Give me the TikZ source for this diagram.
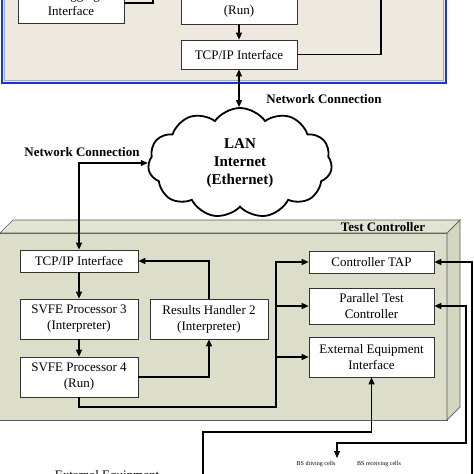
\documentclass[tikz,border=0pt]{standalone}
\usepackage{fontspec}
\setmainfont{Liberation Serif}
\usetikzlibrary{arrows.meta,shapes.symbols,calc}
\definecolor{beige}{RGB}{237,233,223}
\definecolor{panelblue}{RGB}{25,55,200}
\definecolor{panellight}{RGB}{150,170,235}
\definecolor{tcfront}{RGB}{220,222,202}
\definecolor{tctop}{RGB}{226,228,210}
\definecolor{tcside}{RGB}{212,214,192}
\definecolor{edgegray}{RGB}{90,90,90}
\begin{document}
\begin{tikzpicture}[x=1pt,y=-1pt,
  box/.style={draw=black!80, line width=0.7pt, fill=white, align=center, inner sep=0pt, font=\fontsize{13}{16}\selectfont},
  conn/.style={line width=1.1pt, draw=black},
  tip/.style={-{Triangle[length=7pt,width=6pt]}},
  bothtip/.style={{Triangle[length=7pt,width=6pt]}-{Triangle[length=7pt,width=6pt]}},
  lbl/.style={font=\bfseries\fontsize{13}{16}\selectfont, inner sep=0pt},
  tinylbl/.style={font=\fontsize{6}{7}\selectfont, inner sep=0pt}
]
\clip (0,0) rectangle (474,474);
\fill[white] (0,0) rectangle (474,474);
% top panel
\fill[beige] (2,-20) rectangle (446,83);
\draw[panellight, line width=0.8pt] (4.5,-20) -- (4.5,80.5) -- (443.5,80.5) -- (443.5,-20);
\draw[panelblue, line width=2pt] (2,-20) -- (2,83) -- (446,83) -- (446,-20);
\node[box, minimum width=106pt, minimum height=40pt] (dbg) at (71,3) {Debugging\\Interface};
\node[box, minimum width=116pt, minimum height=40pt] (svfetwo) at (239,4) {SVFE Processor 2\\(Run)};
\node[box, minimum width=116pt, minimum height=29pt] (tcpone) at (239,54.5) {TCP/IP Interface};
\coordinate (tcpup) at (381,-20);
\coordinate (dbgup) at (153,-20);
\draw[conn,tip] (svfetwo) -- (tcpone);
\draw[conn] (tcpone.east) -| (tcpup);
\draw[conn] (dbg.east) -| (dbgup);
% cloud
\node[lbl] (nc1) at (324,99) {Network Connection};
\node[cloud, draw, line width=1.8pt, fill=white, cloud puffs=11, cloud puff arc=110, aspect=1.7, minimum width=184pt, minimum height=110pt, align=center, inner sep=0pt, font=\bfseries\fontsize{15}{18}\selectfont] (lan) at (240,163) {LAN\\Internet\\(Ethernet)};
\draw[conn,bothtip] (tcpone.south) -- (tcpone.south |- lan.north);
% test controller
\fill[tcfront] (-5,233) rectangle (447,420);
\draw[edgegray, line width=0.7pt] (-5,233) -- (447,233) -- (447,420) -- (-5,420);
\filldraw[fill=tctop, draw=edgegray, line width=0.7pt] (0,233) -- (13,220) -- (460,220) -- (447,233) -- cycle;
\filldraw[fill=tcside, draw=edgegray, line width=0.7pt] (447,233) -- (460,220) -- (460,407) -- (447,420) -- cycle;
\node[lbl] (tclbl) at (383,227) {Test Controller};
\node[box, minimum width=118pt, minimum height=22pt] (tcptwo) at (79,261) {TCP/IP Interface};
\node[box, minimum width=118pt, minimum height=40pt] (svfethree) at (79,319) {SVFE Processor 3\\(Interpreter)};
\node[box, minimum width=118pt, minimum height=40pt] (rhtwo) at (209,319) {Results Handler 2\\(Interpreter)};
\node[box, minimum width=118pt, minimum height=40pt] (svfefour) at (79,377) {SVFE Processor 4\\(Run)};
\node[box, minimum width=125pt, minimum height=22pt] (ctap) at (371.5,262) {Controller TAP};
\node[box, minimum width=125pt, minimum height=36pt] (ptc) at (371.5,306) {Parallel Test\\Controller};
\node[box, minimum width=125pt, minimum height=40pt] (eei) at (371.5,357) {External Equipment\\Interface};
\node[lbl] (nc2) at (82,152) {Network Connection};
\draw[conn,bothtip] (tcptwo.north) |- (lan.west);
\draw[conn,tip] (tcptwo) -- (svfethree);
\draw[conn,tip] (svfethree) -- (svfefour);
\draw[conn,tip] (svfefour.east) -| (rhtwo.south);
\draw[conn,tip] (rhtwo.north) |- (tcptwo.east);
\coordinate (bus) at (276,407);
\draw[conn,tip] (svfefour.south) |- (bus) |- (ctap.west);
\draw[conn,tip] (bus |- ptc.west) -- (ptc.west);
\draw[conn,tip] (bus |- eei.west) -- (eei.west);
% external
\coordinate (extup) at (203,480);
\coordinate (extc) at (371.5,432);
\draw[conn,tip] (extup) |- (extc) -- (eei.south);
\coordinate (rr) at (472,480);
\draw[conn,tip] (rr) |- (ctap.east);
\coordinate (pr) at (466,443);
\coordinate (bsd) at (337,458);
\draw[conn,bothtip] (ptc.east) -| (pr) -| (bsd);
\node[tinylbl] (bsdl) at (316,464) {BS driving cells};
\node[tinylbl] (bsrl) at (379,464) {BS receiving cells};
\node[font=\fontsize{13}{16}\selectfont, inner sep=0pt, anchor=base] (exteq) at (107,479) {External Equipment};
\end{tikzpicture}
\end{document}
